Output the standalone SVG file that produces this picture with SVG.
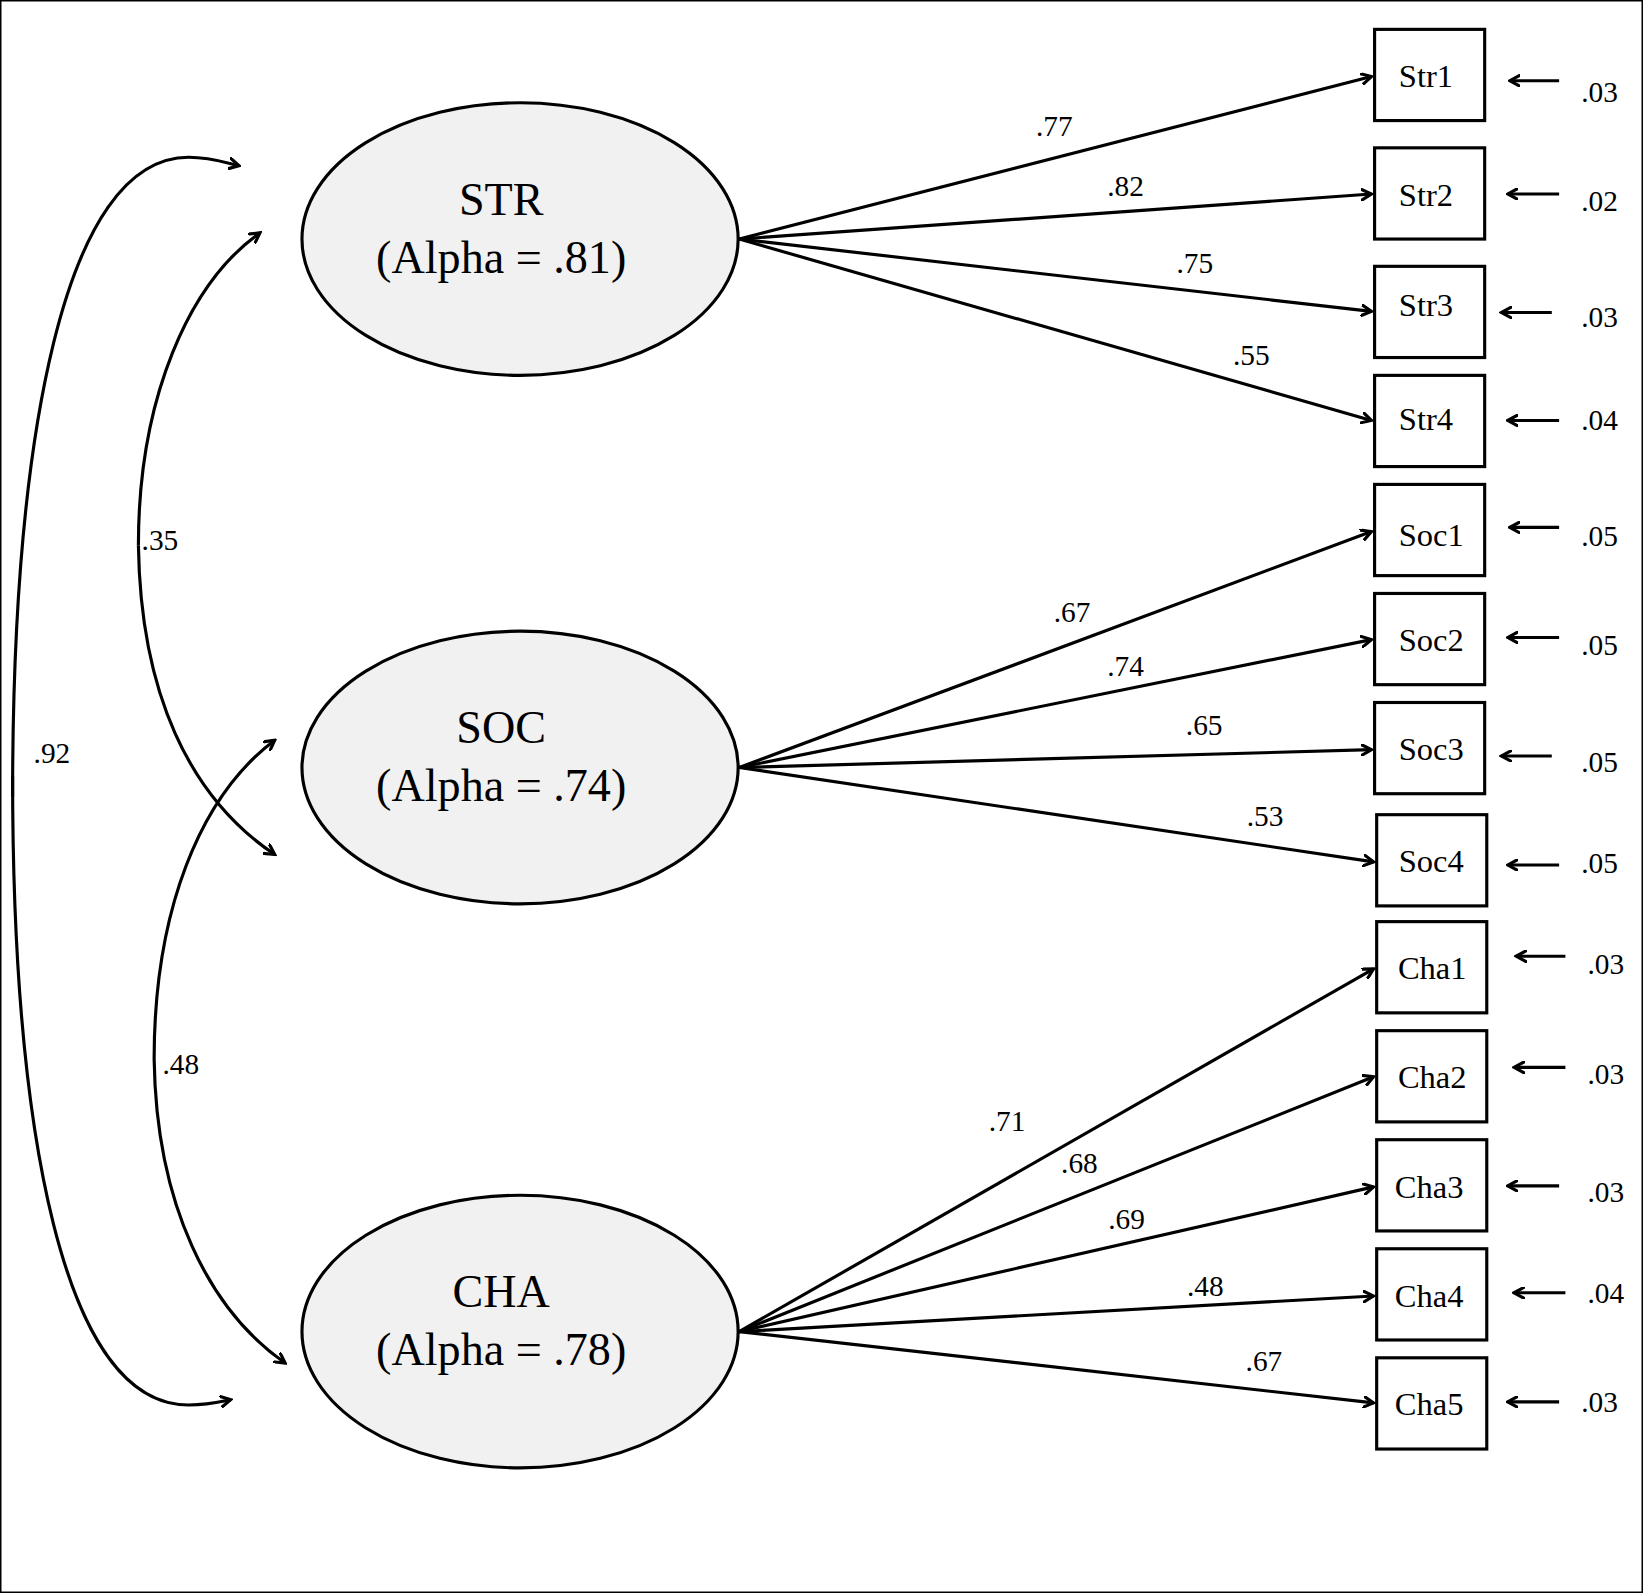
<svg xmlns="http://www.w3.org/2000/svg" width="1643" height="1593" viewBox="0 0 1643 1593">
<style>
text{font-family:"Liberation Serif",serif;fill:#000}
.e{font-size:44px;text-anchor:middle}
.b{font-size:31px;text-anchor:middle}
.l{font-size:28px}
.c line,.c path{stroke:#000;stroke-width:3;fill:none;marker-end:url(#a)}
ellipse{fill:#f1f1f1;stroke:#000;stroke-width:3}
rect{fill:#fff;stroke:#000;stroke-width:3}
</style>
<defs><marker id="a" markerWidth="12" markerHeight="12" refX="10" refY="6" orient="auto" markerUnits="userSpaceOnUse" viewBox="0 0 12 12"><path d="M-12,-6 L10,6 L-12,18" transform="scale(1)" fill="none" stroke="#000" stroke-width="3" /></marker>
<marker id="m" markerWidth="30" markerHeight="30" refX="22" refY="12" orient="auto" markerUnits="userSpaceOnUse" viewBox="0 0 24 24"><path d="M2,2 L22,12 L2,22" fill="none" stroke="#000" stroke-width="3"/></marker></defs>
<rect x="0" y="0" width="1643" height="1593" fill="#fff" stroke="none"/>
<g transform="scale(1.0485)">
<g class="c" id="connectors" style="--x:0">
<g stroke="#000" stroke-width="3" fill="none" marker-end="url(#m)">
<line x1="705" y1="228" x2="1308" y2="73"/>
<line x1="705" y1="228" x2="1308" y2="185"/>
<line x1="705" y1="228" x2="1308" y2="297"/>
<line x1="705" y1="228" x2="1308" y2="401"/>
<line x1="705" y1="732" x2="1308" y2="507"/>
<line x1="705" y1="732" x2="1308" y2="610"/>
<line x1="705" y1="732" x2="1308" y2="715"/>
<line x1="705" y1="732" x2="1310" y2="822"/>
<line x1="705" y1="1270" x2="1310" y2="924"/>
<line x1="705" y1="1270" x2="1310" y2="1027"/>
<line x1="705" y1="1270" x2="1310" y2="1132"/>
<line x1="705" y1="1270" x2="1310" y2="1236"/>
<line x1="705" y1="1270" x2="1310" y2="1338"/>
<line x1="1487" y1="77" x2="1440" y2="77"/>
<line x1="1487" y1="185" x2="1438" y2="185"/>
<line x1="1480" y1="298" x2="1432" y2="298"/>
<line x1="1487" y1="401" x2="1438" y2="401"/>
<line x1="1487" y1="503" x2="1440" y2="503"/>
<line x1="1487" y1="608" x2="1438" y2="608"/>
<line x1="1480" y1="721" x2="1432" y2="721"/>
<line x1="1487" y1="825" x2="1438" y2="825"/>
<line x1="1493" y1="912" x2="1446" y2="912"/>
<line x1="1493" y1="1018" x2="1444" y2="1018"/>
<line x1="1487" y1="1131" x2="1438" y2="1131"/>
<line x1="1493" y1="1233" x2="1444" y2="1233"/>
<line x1="1487" y1="1337" x2="1438" y2="1337"/>
<path d="M200,800 C 12,700 12,300 90,200 C 130,150 180,140 228,157" marker-end="url(#m)" marker-start="none" style="display:none"/>
<path d="M12,760 C 12,420 60,150 180,150 C 200,150 215,155 228,158"/>
<path d="M12,740 C 12,1080 60,1340 180,1340 C 200,1340 210,1337 220,1335"/>
<path d="M132,520 C 132,380 180,270 248,222"/>
<path d="M132,520 C 134,660 180,760 262,815"/>
<path d="M147,1010 C 147,870 190,760 262,706"/>
<path d="M147,1010 C 149,1150 200,1250 272,1300"/>
</g>
</g>
<g id="STR"><ellipse cx="496" cy="228" rx="208" ry="130"/><text class="e" x="478" y="205">STR</text><text class="e" x="478" y="260">(Alpha = .81)</text></g>
<g id="SOC"><ellipse cx="496" cy="732" rx="208" ry="130"/><text class="e" x="478" y="709">SOC</text><text class="e" x="478" y="764">(Alpha = .74)</text></g>
<g id="CHA"><ellipse cx="496" cy="1270" rx="208" ry="130"/><text class="e" x="478" y="1247">CHA</text><text class="e" x="478" y="1302">(Alpha = .78)</text></g>
<g id="Str1"><rect x="1311" y="28" width="105" height="87"/><text class="b" x="1360" y="83">Str1</text></g>
<g id="Str2"><rect x="1311" y="141" width="105" height="87"/><text class="b" x="1360" y="196">Str2</text></g>
<g id="Str3"><rect x="1311" y="254" width="105" height="87"/><text class="b" x="1360" y="301">Str3</text></g>
<g id="Str4"><rect x="1311" y="358" width="105" height="87"/><text class="b" x="1360" y="410">Str4</text></g>
<g id="Soc1"><rect x="1311" y="462" width="105" height="87"/><text class="b" x="1365" y="521">Soc1</text></g>
<g id="Soc2"><rect x="1311" y="566" width="105" height="87"/><text class="b" x="1365" y="621">Soc2</text></g>
<g id="Soc3"><rect x="1311" y="670" width="105" height="87"/><text class="b" x="1365" y="725">Soc3</text></g>
<g id="Soc4"><rect x="1313" y="777" width="105" height="87"/><text class="b" x="1365" y="832">Soc4</text></g>
<g id="Cha1"><rect x="1313" y="879" width="105" height="87"/><text class="b" x="1366" y="934">Cha1</text></g>
<g id="Cha2"><rect x="1313" y="983" width="105" height="87"/><text class="b" x="1366" y="1038">Cha2</text></g>
<g id="Cha3"><rect x="1313" y="1087" width="105" height="87"/><text class="b" x="1363" y="1143">Cha3</text></g>
<g id="Cha4"><rect x="1313" y="1191" width="105" height="87"/><text class="b" x="1363" y="1247">Cha4</text></g>
<g id="Cha5"><rect x="1313" y="1295" width="105" height="87"/><text class="b" x="1363" y="1350">Cha5</text></g>
<g id="labels">
<text class="l" x="988" y="130">.77</text>
<text class="l" x="1056" y="187">.82</text>
<text class="l" x="1122" y="260">.75</text>
<text class="l" x="1176" y="348">.55</text>
<text class="l" x="1005" y="593">.67</text>
<text class="l" x="1056" y="645">.74</text>
<text class="l" x="1131" y="701">.65</text>
<text class="l" x="1189" y="788">.53</text>
<text class="l" x="943" y="1079">.71</text>
<text class="l" x="1012" y="1119">.68</text>
<text class="l" x="1057" y="1172">.69</text>
<text class="l" x="1132" y="1236">.48</text>
<text class="l" x="1188" y="1308">.67</text>
<text class="l" x="135" y="525">.35</text>
<text class="l" x="32" y="728">.92</text>
<text class="l" x="155" y="1024">.48</text>
<text class="l" x="1508" y="97">.03</text>
<text class="l" x="1508" y="201">.02</text>
<text class="l" x="1508" y="312">.03</text>
<text class="l" x="1508" y="410">.04</text>
<text class="l" x="1508" y="521">.05</text>
<text class="l" x="1508" y="625">.05</text>
<text class="l" x="1508" y="736">.05</text>
<text class="l" x="1508" y="833">.05</text>
<text class="l" x="1514" y="929">.03</text>
<text class="l" x="1514" y="1034">.03</text>
<text class="l" x="1514" y="1146">.03</text>
<text class="l" x="1514" y="1243">.04</text>
<text class="l" x="1508" y="1347">.03</text>
</g>
</g>
</svg>
